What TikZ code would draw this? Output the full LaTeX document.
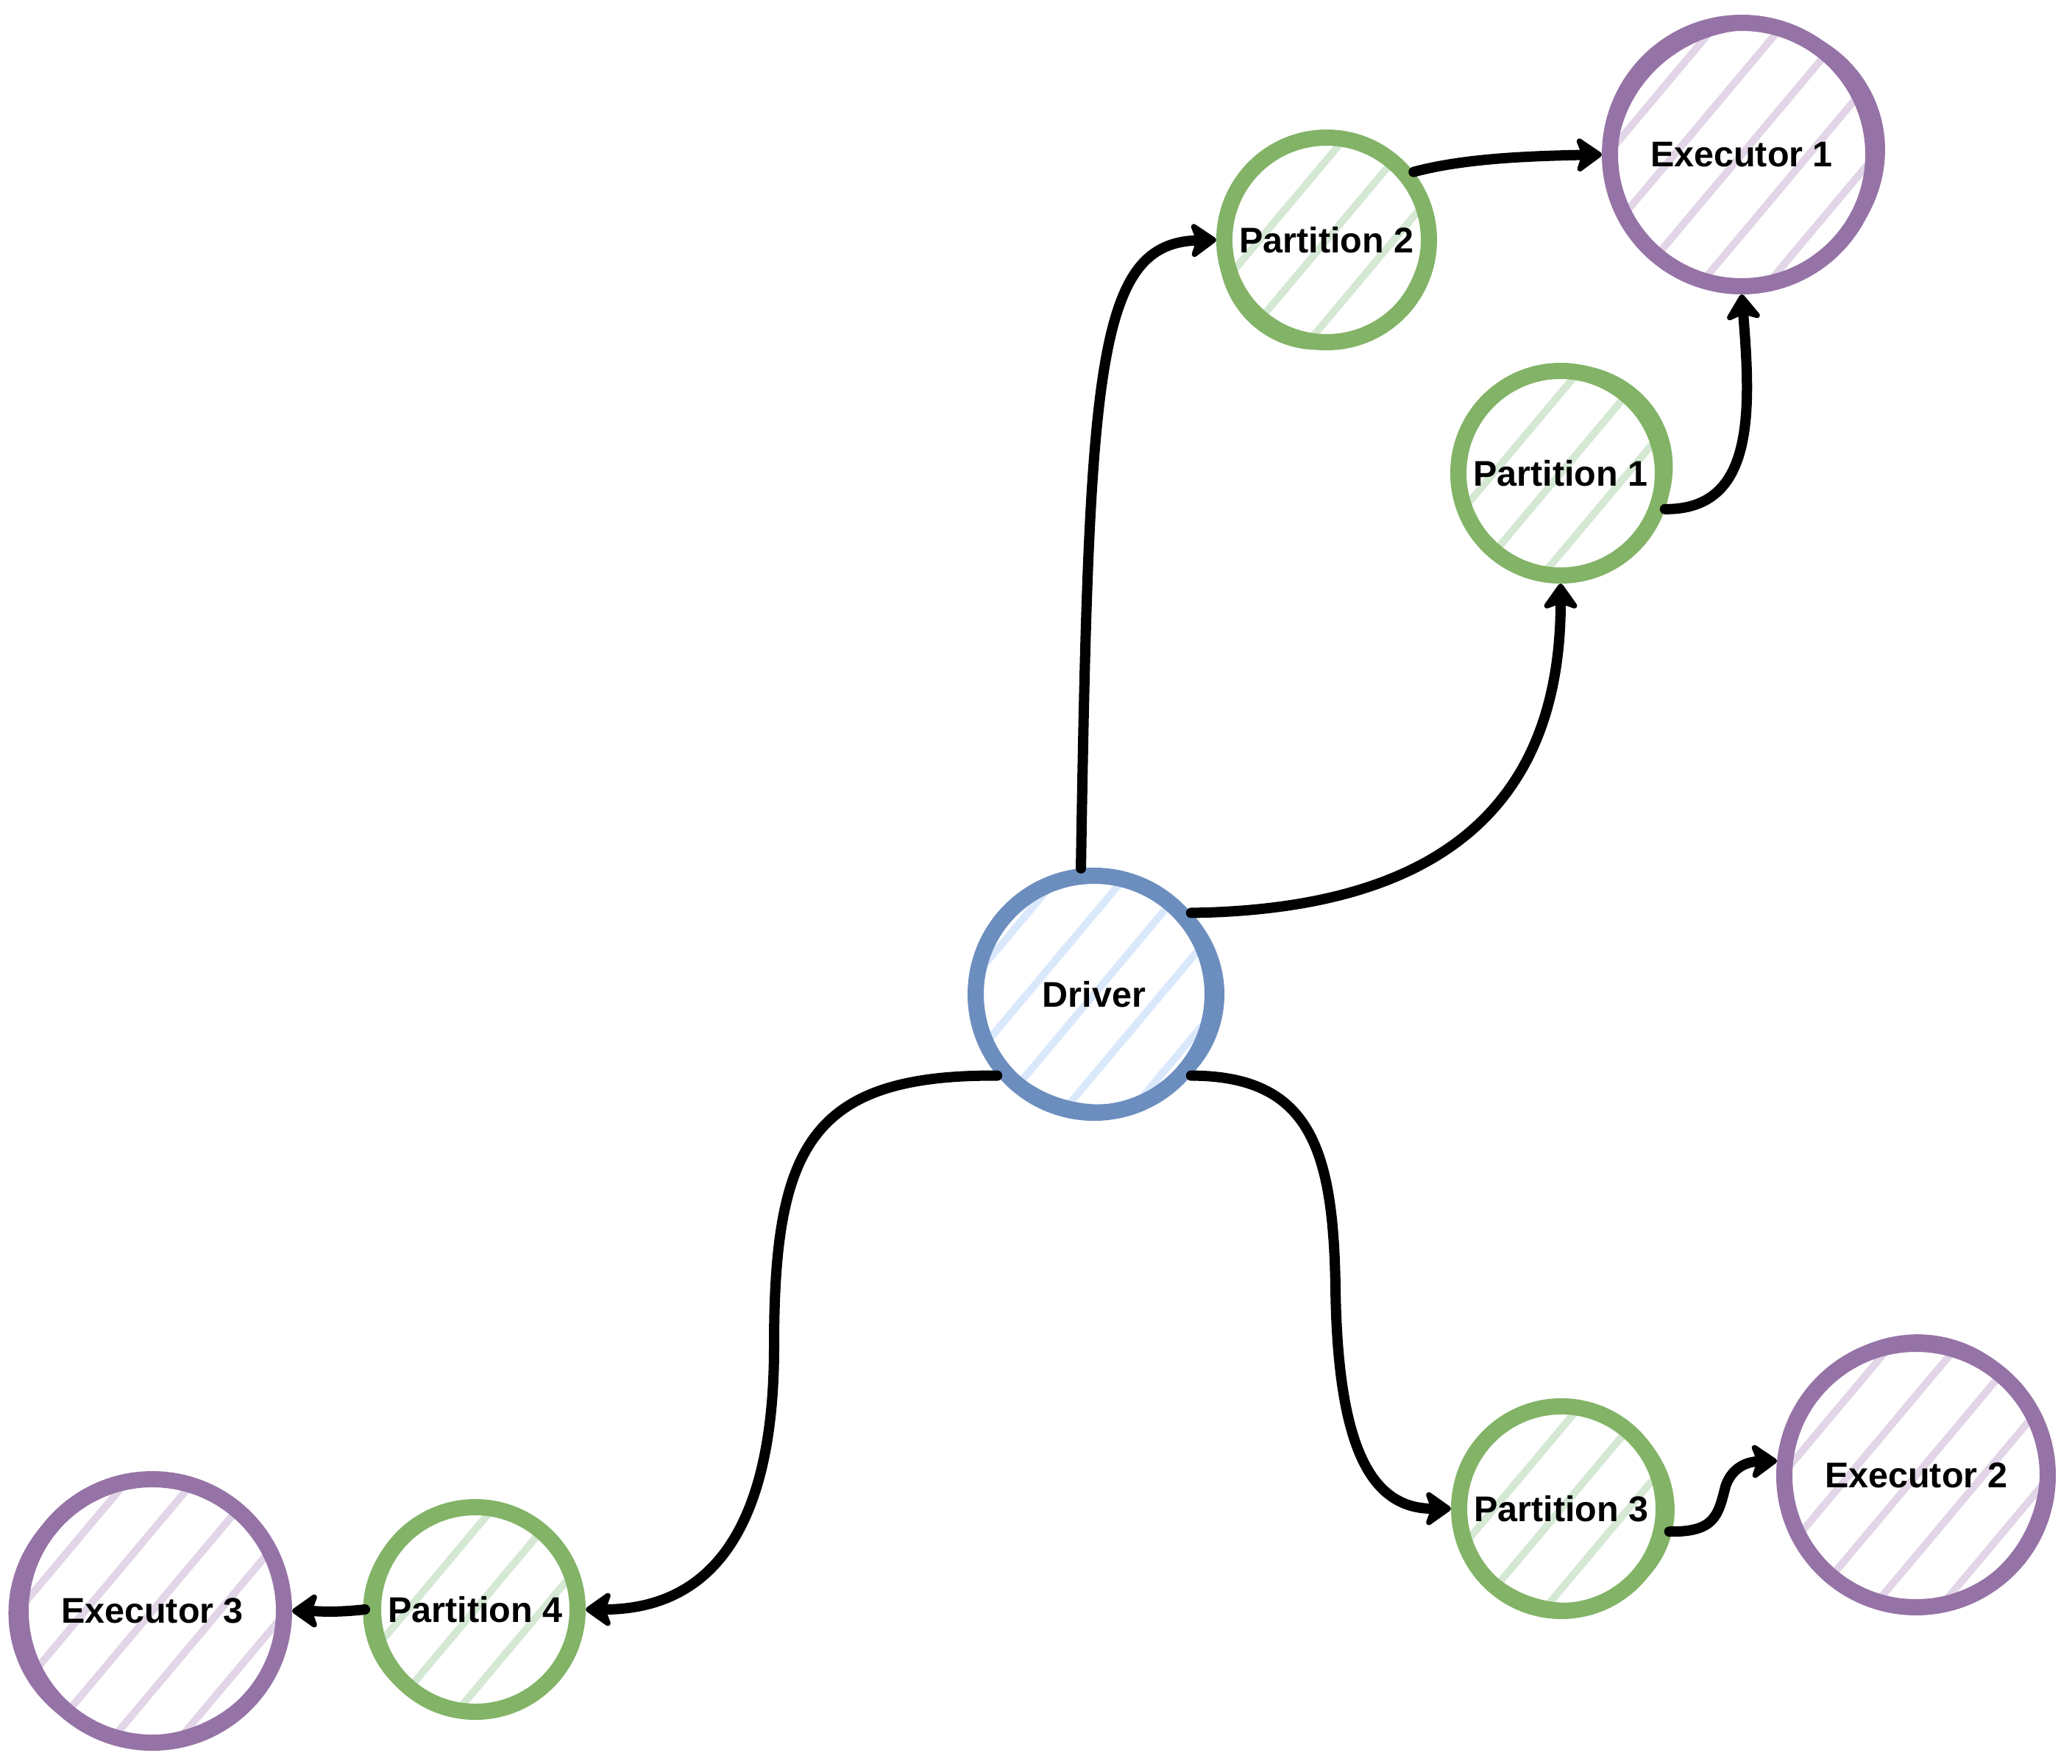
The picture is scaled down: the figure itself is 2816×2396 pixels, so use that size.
\documentclass[tikz,border=0pt]{standalone}
\usepackage{fontspec}
\setmainfont{Liberation Sans}
\usetikzlibrary{arrows.meta}
\definecolor{pstroke}{HTML}{9673A6}
\definecolor{pfill}{HTML}{E1D5E7}
\definecolor{gstroke}{HTML}{82B366}
\definecolor{gfill}{HTML}{D5E8D4}
\definecolor{bstroke}{HTML}{6C8EBF}
\definecolor{bfill}{HTML}{DAE8FC}
\begin{document}
\begin{tikzpicture}[x=1pt,y=-1pt,
  hatched/.style={path picture={%
    \foreach \d in {-420,-350,...,420}{%
      \draw[line width=10pt,#1,line cap=round]
        ([shift={(-40:\d pt)}]path picture bounding box.center) ++(230:330pt) -- ++(50:660pt);}}},
  blob/.style={circle, line width=22pt, inner sep=0pt,
    font=\fontsize{48.5pt}{58pt}\selectfont\bfseries},
  exec/.style={blob, draw=pstroke, hatched=pfill, minimum size=358pt},
  part/.style={blob, draw=gstroke, hatched=gfill, minimum size=278pt},
  drv/.style={blob, draw=bstroke, hatched=bfill, minimum size=322pt},
  sketch/.style={draw=#1, line width=11pt},
  conn/.style={draw=black, line width=14pt, line cap=round, line join=round,
    -{Stealth[length=40pt,width=56pt,inset=10pt,round]}}
]
\fill[white] (0,0) rectangle (2816,2396);
\useasboundingbox (0,0) rectangle (2816,2396);

\node[exec] (E1) at (2367,210) {Executor 1};
\node[part] (P2) at (1803,326) {Partition 2};
\node[part] (P1) at (2121,643) {Partition 1};
\node[drv]  (D)  at (1487,1351) {Driver};
\node[part] (P3) at (2122,2050) {Partition 3};
\node[exec] (E2) at (2604,2005) {Executor 2};
\node[part] (P4) at (646,2187) {Partition 4};
\node[exec] (E3) at (207,2189) {Executor 3};

% hand-drawn second strokes
\draw[sketch=pstroke, rotate around={25:(E1.center)}] ([shift={(6pt,-4pt)}]E1.center) ellipse [x radius=184pt, y radius=174pt];
\draw[sketch=pstroke, rotate around={-20:(E2.center)}] ([shift={(-4pt,2pt)}]E2.center) ellipse [x radius=176pt, y radius=184pt];
\draw[sketch=pstroke, rotate around={15:(E3.center)}] ([shift={(-4pt,3pt)}]E3.center) ellipse [x radius=186pt, y radius=176pt];
\draw[sketch=gstroke, rotate around={20:(P1.center)}] ([shift={(3pt,3pt)}]P1.center) ellipse [x radius=146pt, y radius=138pt];
\draw[sketch=gstroke, rotate around={-30:(P2.center)}] ([shift={(-3pt,-2pt)}]P2.center) ellipse [x radius=136pt, y radius=146pt];
\draw[sketch=gstroke, rotate around={-15:(P3.center)}] ([shift={(2pt,4pt)}]P3.center) ellipse [x radius=146pt, y radius=136pt];
\draw[sketch=gstroke, rotate around={20:(P4.center)}] ([shift={(-3pt,3pt)}]P4.center) ellipse [x radius=144pt, y radius=138pt];
\draw[sketch=bstroke, rotate around={-10:(D.center)}] ([shift={(3pt,4pt)}]D.center) ellipse [x radius=168pt, y radius=158pt];

\draw[conn] (D.96) .. controls (1480,500) and (1490,330) .. (P2.west);
\draw[conn] (D.40) .. controls (1950,1236) and (2121,1100) .. (P1.south);
\draw[conn] (P2.38) .. controls (1990,215) and (2080,212) .. (E1.west);
\draw[conn] (P1.-19) .. controls (2385,693) and (2380,560) .. (E1.south);
\draw[conn] (D.220) .. controls (1100,1460) and (1052,1560) .. (1052,1830)
   .. controls (1052,2100) and (950,2187) .. (P4.east);
\draw[conn] (D.-40) .. controls (1780,1462) and (1812,1560) .. (1815,1750)
   .. controls (1818,1960) and (1860,2050) .. (P3.west);
\draw[conn] (P3.-12) .. controls (2330,2082) and (2335,2060) .. (2345,2020)
   .. controls (2355,1990) and (2380,1986) .. (E2.174);
\draw[conn] (P4.west) .. controls (450,2192) and (430,2189) .. (E3.east);
\end{tikzpicture}
\end{document}
